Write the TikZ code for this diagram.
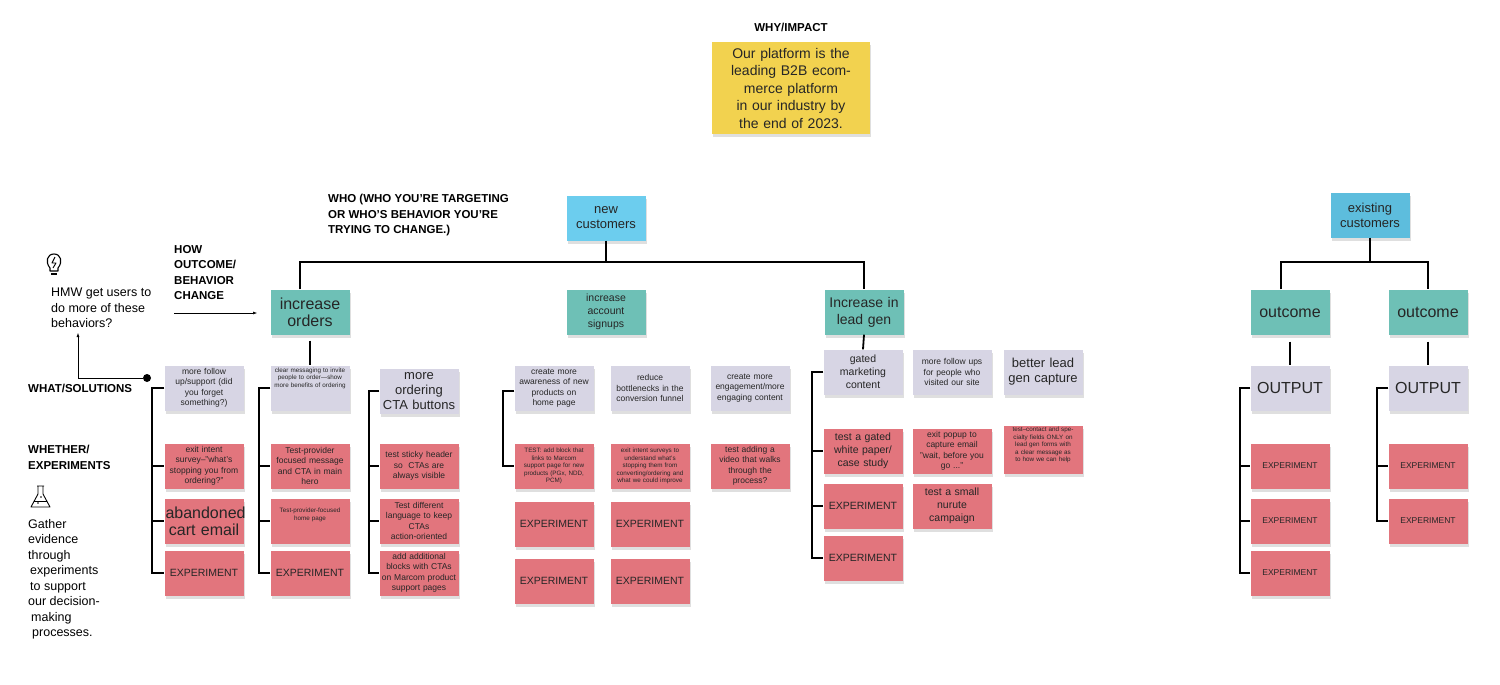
\documentclass[tikz,border=0pt]{standalone}
\usepackage{fontspec}
\setmainfont{Liberation Sans}
\usetikzlibrary{arrows.meta,shadows}
\definecolor{sred}{HTML}{E2757D}
\definecolor{sgray}{HTML}{D7D5E4}
\definecolor{steal}{HTML}{6EC0B6}
\definecolor{sblue}{HTML}{6CCDEE}
\definecolor{sblue2}{HTML}{5DBDDD}
\definecolor{syel}{HTML}{F2D24F}
\tikzset{
 sticky/.style={minimum width=78pt,minimum height=45pt,inner sep=1pt,align=center,text width=77pt,
   drop shadow={shadow xshift=1pt,shadow yshift=-3pt,fill=black!25,opacity=0.5},text=black!85},
 red/.style={sticky,fill=sred}, gry/.style={sticky,fill=sgray}, tl/.style={sticky,fill=steal},
 fxs/.style={font=\fontsize{6.3}{7.5}\selectfont},
 fs/.style={font=\fontsize{8.5}{10.5}\selectfont},
 fm/.style={font=\fontsize{10.5}{13}\selectfont},
 fl/.style={font=\fontsize{13}{15}\selectfont},
 fxl/.style={font=\fontsize{16}{17}\selectfont},
 lbl/.style={font=\fontsize{11.5}{15.5}\selectfont\bfseries,align=left,inner sep=0,anchor=north west},
 tree/.style={line width=1.8pt},
 thin/.style={line width=1.2pt},
}
\begin{document}
\begin{tikzpicture}[x=1pt,y=-1pt]
\useasboundingbox (0,0) rectangle (1500,685);
% top
\node[font=\fontsize{11.5}{13}\selectfont\bfseries] (why) at (791,27) {WHY/IMPACT};
\node[sticky,fill=syel,minimum width=158pt,minimum height=91pt,text width=150pt,font=\fontsize{14}{17.5}\selectfont] (goal) at (791,88) {Our platform is the leading B2B ecommerce platform in our industry by the end of 2023.};
\node[sticky,fill=sblue,fl] (newc) at (606,218) {new\\customers};
\node[sticky,fill=sblue2,fl] (exc) at (1370,215) {existing\\customers};
\node[tl,fxl] (io) at (310,312) {increase\\orders};
\node[tl,fm] (ias) at (606,312) {increase\\account\\signups};
\node[tl,font=\fontsize{14}{17}\selectfont] (ilg) at (864,312) {Increase in\\lead gen};
\node[tl,fxl] (oc1) at (1290,312) {outcome};
\node[tl,fxl] (oc2) at (1428,312) {outcome};
% top tree
\coordinate (t1) at (606,262);
\draw[tree] (newc.south) -- (t1);
\draw[tree] (io.north -| 300,0) |- (t1) -| (ilg.north);
\coordinate (t2) at (1370,262);
\draw[tree] (exc.south) -- (t2);
\draw[tree] (oc1.north -| 1281,0) |- (t2) -| (oc2.north);
% labels left
\node[lbl,align=left] (who) at (328,194) {WHO (WHO YOU'RE TARGETING\\OR WHO'S BEHAVIOR YOU'RE\\TRYING TO CHANGE.)};
\node[lbl] (how) at (174,245) {HOW\\OUTCOME/\\BEHAVIOR\\CHANGE};
\coordinate (howa) at (174,313);
\coordinate (howb) at (257,313);
\draw[-{Latex[length=4pt]},line width=0.5pt] (howa) -- (howb);
\node[align=left,inner sep=0,anchor=north west,font=\fontsize{12.5}{15.5}\selectfont] (hmw) at (51,288) {HMW get users to\\do more of these\\behaviors?};
\node[lbl] (what) at (28,384) {WHAT/SOLUTIONS};
\node[lbl] (whether) at (28,445) {WHETHER/\\EXPERIMENTS};
\node[align=left,inner sep=0,anchor=north west,font=\fontsize{12.5}{15.5}\selectfont] (gather) at (28,519) {Gather\\evidence\\through\\\hspace{2pt}experiments\\\hspace{2pt}to support\\our decision-\\\hspace{3pt}making\\\hspace{4pt}processes.};
\node[circle,fill=black,inner sep=0,minimum size=8pt] (dot) at (147,378) {};
\coordinate (up) at (78,333);
\draw[-{Latex[length=4pt]},line width=0.5pt] (dot) -| (up);
% bulb icon
\draw[line width=1.1pt,line join=round] (50,268) .. controls (45,262) and (47,254) .. (54,254) .. controls (61,254) and (63,262) .. (58,268) -- (58,271) -- (50,271) -- cycle;
\draw[line width=1.1pt] (51,274) -- (57,274);
\draw[line width=0.9pt,line join=round] (55,257) -- (52,263) -- (56,263) -- (53,268);
% flask icon
\draw[line width=0.9pt,line join=round] (37,486) -- (44,486) (38,486) -- (38,494) -- (31,507) -- (50,507) -- (43,494) -- (43,486);
\draw[line width=0.7pt] (34,501) -- (47,501);
\fill (41,497) circle (0.9pt) (38,503) circle (0.9pt);
% Column A
\node[gry,fs] (a0) at (204,388) {more follow\\up/support (did\\you forget\\something?)};
\node[red,fs] (a1) at (204,466) {exit intent\\survey--"what's\\stopping you from\\ordering?"};
\node[red,fxl] (a2) at (204,521) {abandoned\\cart email};
\node[red,fm] (a3) at (204,573) {EXPERIMENT};
\draw[tree] (a0.west) -| (152,466) -- (a1.west);
\draw[thin] (152,466) |- (a3.west) (152,521) -- (a2.west);
% Column B
\node[gry,fxs] (b0) at (310,388) {clear messaging to invite people to order---show more benefits of ordering\\[14pt]\mbox{}};
\node[red,fs] (b1) at (310,466) {Test-provider\\focused message\\and CTA in main\\hero};
\node[red,fxs] (b2) at (310,521) {Test-provider-focused\\home page\\[6pt]\mbox{}};
\node[red,fm] (b3) at (310,573) {EXPERIMENT};
\draw[tree] (io.south) ++(0,6) -- (b0.north);
\draw[tree] (b0.west) -| (259,573) -- (b3.west);
\draw[thin] (259,466) -- (b1.west) (259,521) -- (b2.west);
% Column C
\node[gry,fl] (c0) at (419,391) {more ordering\\CTA buttons};
\node[red,fs] (c1) at (419,466) {test sticky header\\so \ CTAs are\\always visible};
\node[red,fs] (c2) at (419,521) {Test different\\language to keep\\CTAs\\action-oriented};
\node[red,fs] (c3) at (419,573) {add additional\\blocks with CTAs\\on Marcom product\\support pages};
\draw[tree] (c0.west) -| (369,573) -- (c3.west);
\draw[thin] (369,466) -- (c1.west) (369,521) -- (c2.west);
% Column D
\node[gry,fs] (d0) at (554,388) {create more\\awareness of new\\products on\\home page};
\node[red,fxs] (d1) at (554,466) {TEST: add block that\\links to Marcom\\support page for new\\products (PGx, NDD,\\PCM)};
\node[red,fm] (d2) at (554,524) {EXPERIMENT};
\node[red,fm] (d3) at (554,581) {EXPERIMENT};
\draw[tree] (d0.west) ++(0,3) -| (503,466) -- (d1.west);
% Column E
\node[gry,fs] (e0) at (650,388) {reduce\\bottlenecks in the\\conversion funnel};
\node[red,fxs] (e1) at (650,466) {exit intent surveys to\\understand what's\\stopping them from\\converting/ordering and\\what we could improve};
\node[red,fm] (e2) at (650,524) {EXPERIMENT};
\node[red,fm] (e3) at (650,581) {EXPERIMENT};
% Column F
\node[gry,fs] (f0) at (750,388) {create more\\engagement/more\\engaging content};
\node[red,fs] (f1) at (750,466) {test adding a\\video that walks\\through the\\process?};
% Column G
\node[gry,fm] (g0) at (863,372) {gated\\marketing\\content};
\node[red,fm] (g1) at (863,451) {test a gated\\white paper/\\case study};
\node[red,fm] (g2) at (863,506) {EXPERIMENT};
\node[red,fm] (g3) at (863,558) {EXPERIMENT};
\draw[tree] (ilg.south) -- (g0.north);
\draw[tree] (g0.west) -| (812,451) -- (g1.west);
\draw[thin] (812,451) |- (g3.west) (812,506) -- (g2.west);
% Column H
\node[gry,fs] (h0) at (952,372) {more follow ups\\for people who\\visited our site};
\node[red,fs] (h1) at (952,451) {exit popup to\\capture email\\"wait, before you\\go ..."};
\node[red,fm] (h2) at (952,506) {test a small\\nurute\\campaign};
% Column I
\node[gry,fl] (i0) at (1043,372) {better lead\\gen capture};
\node[red,fxs,minimum height=44pt] (i1) at (1043,450) {test--contact and specialty fields ONLY on lead gen forms with a clear message as to how we can help\\[4pt]\mbox{}};
% Existing outputs
\node[gry,fxl] (o1) at (1290,388) {OUTPUT};
\node[red,fs] (o1a) at (1290,466) {EXPERIMENT};
\node[red,fs] (o1b) at (1290,521) {EXPERIMENT};
\node[red,fs] (o1c) at (1290,573) {EXPERIMENT};
\draw[tree] (oc1.south) ++(0,7) -- (o1.north);
\draw[tree] (o1.west) -| (1240,573) -- (o1c.west);
\draw[tree] (1240,466) -- (o1a.west) (1240,521) -- (o1b.west);
\node[gry,fxl] (o2) at (1428,388) {OUTPUT};
\node[red,fs] (o2a) at (1428,466) {EXPERIMENT};
\node[red,fs] (o2b) at (1428,521) {EXPERIMENT};
\draw[tree] (oc2.south) ++(0,7) -- (o2.north);
\draw[tree] (o2.west) -| (1377,521) -- (o2b.west);
\draw[tree] (1377,466) -- (o2a.west);
\end{tikzpicture}
\end{document}
